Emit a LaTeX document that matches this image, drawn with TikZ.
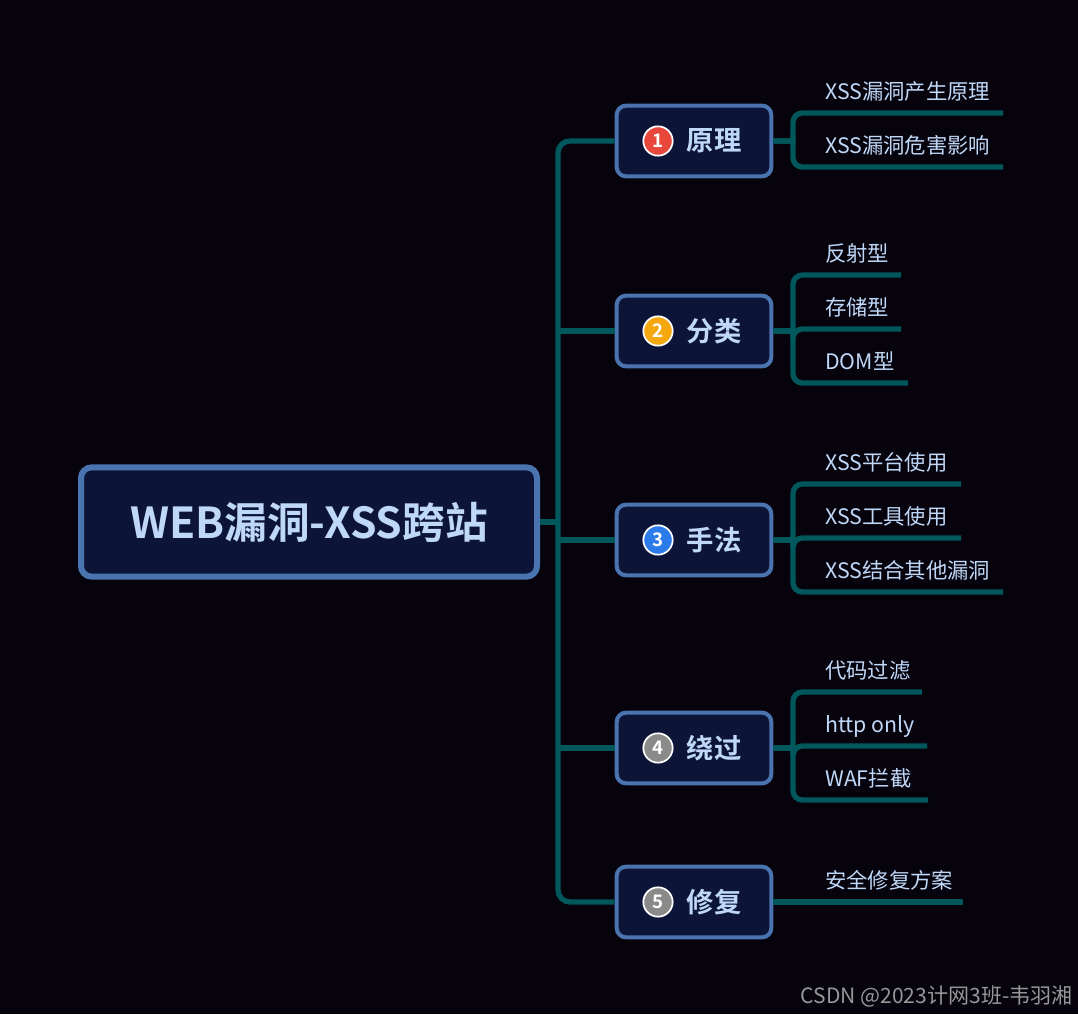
\documentclass[tikz,border=0pt]{standalone}
\usepackage{fontspec}
\setmainfont{Noto Sans CJK SC}
\newfontfamily\bfcjk{Noto Sans CJK SC Bold}
\definecolor{bg}{HTML}{07030D}
\definecolor{boxfill}{HTML}{0C1538}
\definecolor{boxline}{HTML}{4A74B0}
\definecolor{conncol}{HTML}{00585C}
\definecolor{txt}{HTML}{BFD8F8}
\definecolor{ired}{HTML}{E8473B}
\definecolor{iorange}{HTML}{F5A70F}
\definecolor{iblue}{HTML}{2C7BEA}
\definecolor{igray}{HTML}{8A8A8A}
\begin{document}
\begin{tikzpicture}[x=0.75pt,y=-0.75pt,
  conn/.style={draw=conncol,line width=4pt},
  rootbox/.style={draw=boxline,fill=boxfill,line width=4.5pt,rounded corners=8pt,minimum width=342pt,minimum height=82pt,text=txt,font=\bfcjk\fontsize{32}{36}\selectfont},
  brbox/.style={draw=boxline,fill=boxfill,line width=3pt,rounded corners=7pt,minimum width=116pt,minimum height=53pt},
  brtext/.style={text=txt,font=\bfcjk\fontsize{20.5}{24}\selectfont},
  icon/.style={circle,draw=white,line width=1.3pt,minimum size=22pt,inner sep=0pt,text=white,font=\bfcjk\fontsize{14}{15}\selectfont},
  leaf/.style={anchor=base west,text=txt,font=\fontsize{16}{18}\selectfont,inner sep=0pt}]
\fill[bg] (0,0) rectangle (1078,1014);
\useasboundingbox (0,0) rectangle (1078,1014);
% root
\node[rootbox] (root) at (309,522) {WEB漏洞-XSS跨站};
% branches
\foreach \n/\y/\c/\t in {1/141/ired/原理,2/331/iorange/分类,3/540/iblue/手法,4/748/igray/绕过,5/902/igray/修复}{
  \node[brbox] (b\n) at (694,\y) {};
  \node[icon,fill=\c] (i\n) at (658,\y) {\n};
  \node[brtext] (t\n) at (714,\y) {\t};
}
% trunk
\coordinate (rj) at (558,522);
\draw[conn] (root.east) -- (rj);
\draw[conn,rounded corners=9pt] (b1.west) -- (558,141) -- (558,902) -- (b5.west);
\draw[conn] (558,331) -- (b2.west);
\draw[conn] (558,540) -- (b3.west);
\draw[conn] (558,748) -- (b4.west);
% leaves
\foreach \b/\cy/\ly/\ex/\t in {
 1/141/113/1003/XSS漏洞产生原理, 1/141/167/1003/XSS漏洞危害影响,
 2/331/275/901/反射型, 2/331/329/901/存储型, 2/331/383/908/DOM型,
 3/540/484/961/XSS平台使用, 3/540/538/961/XSS工具使用, 3/540/592/1003/XSS结合其他漏洞,
 4/748/692/922/代码过滤, 4/748/746/927/http only, 4/748/800/928/WAF拦截}{
  \coordinate (e) at (\ex,\ly);
  \draw[conn] (b\b.east) -- (793,\cy) [rounded corners=7pt] |- (e);
  \node[leaf] at (825,\ly-14) {\t};
}
\coordinate (e5) at (963,902);
\draw[conn] (b5.east) -- (e5);
\node[leaf] at (825,888) {安全修复方案};
\node[anchor=base east,text=igray!90,font=\fontsize{15.8}{17}\selectfont,inner sep=0pt] (wm) at (1073,1003) {CSDN @2023计网3班-韦羽湘};
\end{tikzpicture}
\end{document}
